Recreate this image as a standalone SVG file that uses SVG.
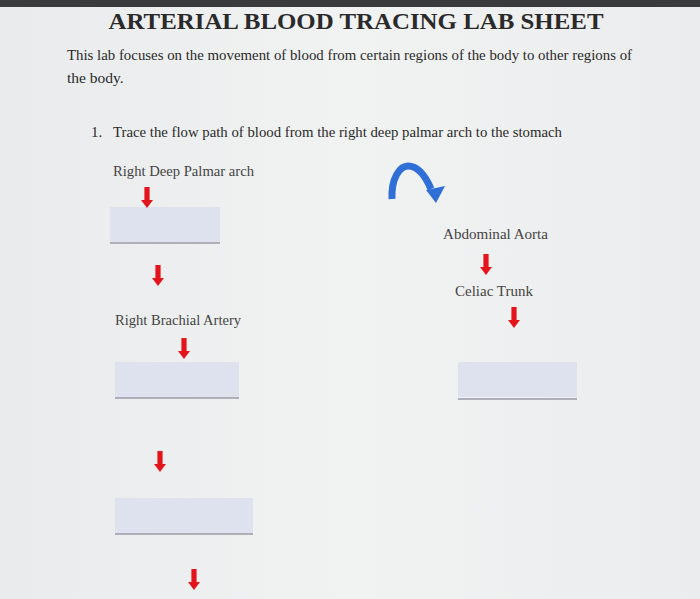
<svg xmlns="http://www.w3.org/2000/svg" width="700" height="599" viewBox="0 0 700 599">
<style>
.t{font-family:"Liberation Serif","Times New Roman",serif;fill:#2a2a2a}
.lbl{font-size:14.5px;fill:#444}
.box{fill:#dde2ee}
.ul{stroke:#9a9aa6;stroke-width:1.5}
</style>
<defs>
<path id="ra" d="M-2.6,0 H2.6 V13 H6 L0,21 L-6,13 H-2.6 Z" fill="#e3151c"/>
<linearGradient id="bg" x1="0" y1="0" x2="1" y2="0">
<stop offset="0" stop-color="#e9ebec"/>
<stop offset="0.5" stop-color="#f1f2f2"/>
<stop offset="1" stop-color="#ebeced"/>
</linearGradient>
</defs>
<rect width="700" height="599" fill="url(#bg)"/>
<rect width="700" height="7" fill="#3a3b3d"/>
<g id="title"><text class="t" x="356" y="29" text-anchor="middle" font-size="24" font-weight="bold" fill="#1e1e1e" textLength="495" lengthAdjust="spacingAndGlyphs">ARTERIAL BLOOD TRACING LAB SHEET</text></g>
<g id="intro">
<text class="t" x="67" y="60" font-size="15.5" textLength="565" lengthAdjust="spacingAndGlyphs">This lab focuses on the movement of blood from certain regions of the body to other regions of</text>
<text class="t" x="67" y="83" font-size="15.5">the body.</text>
</g>
<g id="question">
<text class="t" x="91" y="137" font-size="15">1.</text>
<text class="t" x="113" y="137" font-size="15" textLength="449" lengthAdjust="spacingAndGlyphs">Trace the flow path of blood from the right deep palmar arch to the stomach</text>
</g>
<g id="n-palmar"><text class="t lbl" x="113" y="176" textLength="141" lengthAdjust="spacingAndGlyphs">Right Deep Palmar arch</text></g>
<g id="n-box1"><rect class="box" x="110" y="207" width="110" height="35"/><line class="ul" x1="110" y1="243" x2="220" y2="243"/></g>
<g id="n-aorta"><text class="t lbl" x="443" y="239" textLength="105" lengthAdjust="spacingAndGlyphs">Abdominal Aorta</text></g>
<g id="n-celiac"><text class="t lbl" x="455" y="296" textLength="78" lengthAdjust="spacingAndGlyphs">Celiac Trunk</text></g>
<g id="n-brachial"><text class="t lbl" x="115" y="325" textLength="126" lengthAdjust="spacingAndGlyphs">Right Brachial Artery</text></g>
<g id="n-box2"><rect class="box" x="115" y="362" width="124" height="35"/><line class="ul" x1="115" y1="398" x2="239" y2="398"/></g>
<g id="n-box3"><rect class="box" x="458" y="362" width="119" height="35"/><line class="ul" x1="458" y1="399" x2="577" y2="399"/></g>
<g id="n-box4"><rect class="box" x="115" y="498" width="138" height="35"/><line class="ul" x1="115" y1="534" x2="253" y2="534"/></g>
<g id="connectors">
<use href="#ra" x="147" y="187"/>
<use href="#ra" x="158" y="265"/>
<use href="#ra" x="486" y="254"/>
<use href="#ra" x="514" y="307"/>
<use href="#ra" x="184" y="338"/>
<use href="#ra" x="160" y="451"/>
<use href="#ra" x="194" y="569"/>
<path d="M392,199 C391,178 400,166 408,166 C417,166 425,175 431,189" fill="none" stroke="#2f6fd6" stroke-width="7"/>
<path d="M426,190 L445,186 L436,203 Z" fill="#2f6fd6"/>
</g>
</svg>
